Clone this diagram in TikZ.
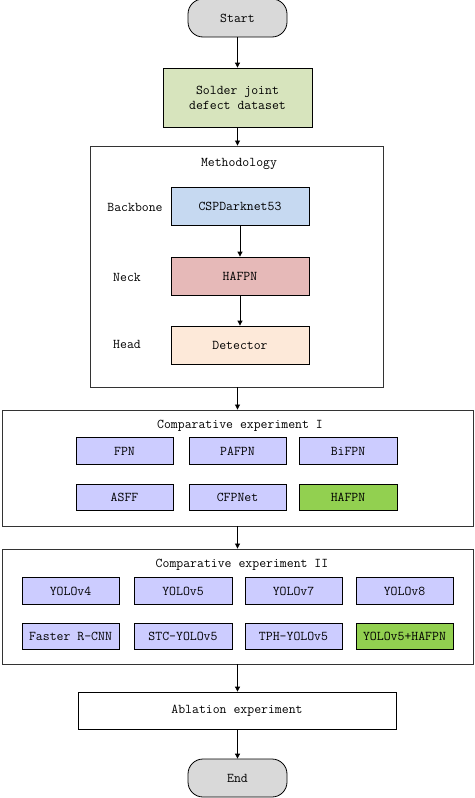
\documentclass[tikz,border=0pt]{standalone}
\usepackage{fontspec}
\usetikzlibrary{arrows.meta}
\definecolor{termgray}{HTML}{D9D9D9}
\definecolor{datagreen}{HTML}{D7E4BD}
\definecolor{bbblue}{HTML}{C6D9F1}
\definecolor{neckred}{HTML}{E6B9B8}
\definecolor{headpeach}{HTML}{FDE9D9}
\definecolor{lav}{HTML}{CCCCFF}
\definecolor{hlgreen}{HTML}{92D050}
\tikzset{
  x=1pt, y=-1pt,
  every node/.style={font=\ttfamily\fontsize{13.4}{15}\selectfont, inner sep=1pt},
  box/.style={draw=black, line width=0.8pt, align=center},
  term/.style={box, fill=termgray, rounded corners=15pt, minimum width=99pt, minimum height=38pt},
  frame/.style={draw=black!80, line width=0.9pt, fill=white},
  item/.style={box, fill=lav, minimum height=26.5pt},
  arr/.style={draw=black, line width=0.8pt, -{Triangle[length=5pt,width=5pt]}}
}
\begin{document}
\begin{tikzpicture}
\useasboundingbox (0,0) rectangle (474,798);
% terminals
\node[term] (start) at (237.5,18) {Start};
\node[box, fill=datagreen, minimum width=149pt, minimum height=59pt] (data) at (237.5,97.5) {Solder joint\\defect dataset};
% methodology
\node[frame, minimum width=293pt, minimum height=241pt] (method) at (236.5,266.5) {};
\node (mtitle) at (239,164) {Methodology};
\node[box, fill=bbblue, minimum width=138pt, minimum height=38pt] (csp) at (240,206) {CSPDarknet53};
\node[box, fill=neckred, minimum width=138pt, minimum height=38pt] (neck) at (240,276) {HAFPN};
\node[box, fill=headpeach, minimum width=138pt, minimum height=38pt] (det) at (240,345) {Detector};
\node (lbb) at (135,207) {Backbone};
\node (lneck) at (127,277) {Neck};
\node (lhead) at (127,344) {Head};
% comparative I
\node[frame, minimum width=471pt, minimum height=116pt] (comp1) at (237.5,468) {};
\node (c1title) at (240,426) {Comparative experiment I};
\node[item, minimum width=97pt] (fpn) at (124.5,451) {FPN};
\node[item, minimum width=97pt] (pafpn) at (237.5,451) {PAFPN};
\node[item, minimum width=98pt] (bifpn) at (348,451) {BiFPN};
\node[item, minimum width=97pt] (asff) at (124.5,497.5) {ASFF};
\node[item, minimum width=97pt] (cfpnet) at (237.5,497.5) {CFPNet};
\node[item, fill=hlgreen, minimum width=98pt] (hafpn1) at (348,497.5) {HAFPN};
% comparative II
\node[frame, minimum width=471pt, minimum height=115pt] (comp2) at (237.5,606.5) {};
\node (c2title) at (242,565) {Comparative experiment II};
\node[item, minimum width=97pt] (y4) at (70.5,591) {YOLOv4};
\node[item, minimum width=98pt] (y5) at (183,591) {YOLOv5};
\node[item, minimum width=97pt] (y7) at (293.5,591) {YOLOv7};
\node[item, minimum width=97pt] (y8) at (404.5,591) {YOLOv8};
\node[item, minimum width=97pt] (frcnn) at (70.5,636.5) {Faster R-CNN};
\node[item, minimum width=98pt] (stc) at (183,636.5) {STC-YOLOv5};
\node[item, minimum width=97pt] (tph) at (293.5,636.5) {TPH-YOLOv5};
\node[item, fill=hlgreen, minimum width=97pt] (yh) at (404.5,636.5) {YOLOv5+HAFPN};
% ablation and end
\node[box, fill=white, minimum width=318pt, minimum height=37pt] (abl) at (237,710.5) {Ablation experiment};
\node[term] (end) at (237.5,778) {End};
% connectors
\draw[arr] (start.south) -- (data.north);
\draw[arr] (data.south) -- (data.south |- method.north);
\draw[arr] (csp.south) -- (neck.north);
\draw[arr] (neck.south) -- (det.north);
\draw[arr] (method.south -| data.south) -- (data.south |- comp1.north);
\draw[arr] (comp1.south -| data.south) -- (data.south |- comp2.north);
\draw[arr] (comp2.south -| data.south) -- (data.south |- abl.north);
\draw[arr] (abl.south -| data.south) -- (end.north);
\end{tikzpicture}
\end{document}
